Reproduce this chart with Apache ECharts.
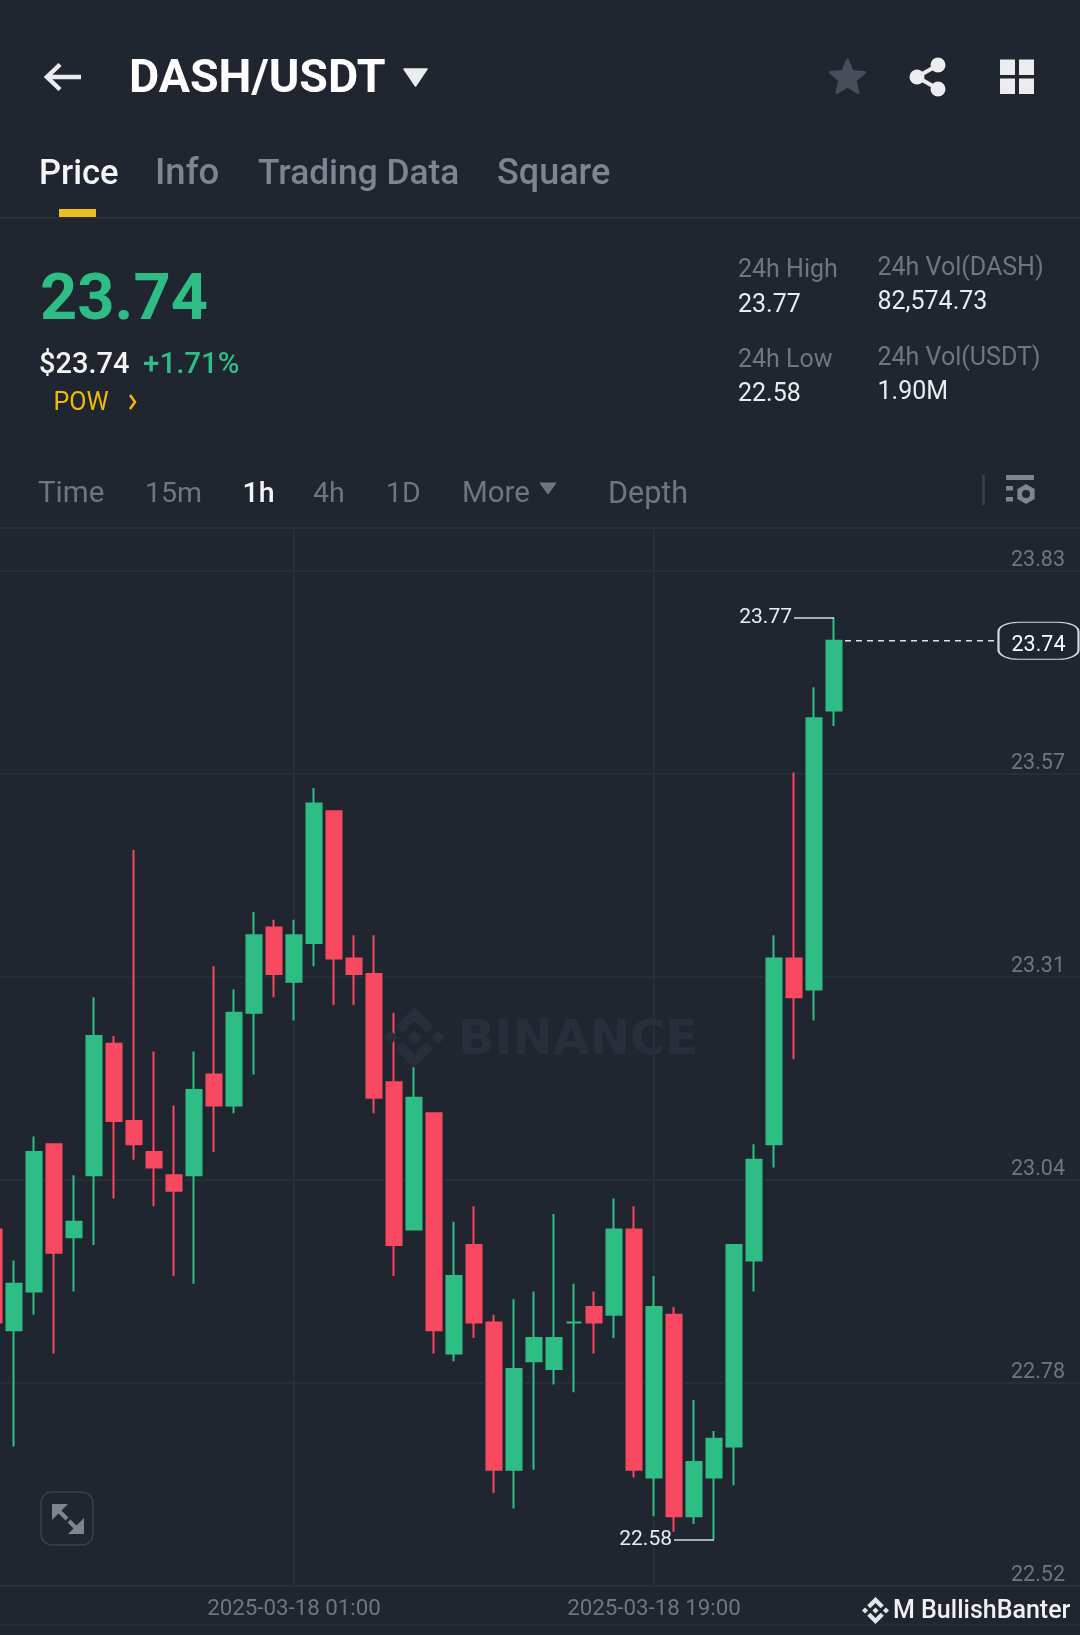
<!DOCTYPE html>
<html>
<head>
<meta charset="utf-8">
<style>html,body{margin:0;padding:0;background:#1f2630}#c{width:1080px;height:1635px}</style>
<script src="https://cdn.jsdelivr.net/npm/echarts@6/dist/echarts.min.js"></script>
</head>
<body>
<div id="c"></div>
<script>
const categories = [
'2025-03-17 10:00','2025-03-17 11:00','2025-03-17 12:00','2025-03-17 13:00','2025-03-17 14:00','2025-03-17 15:00','2025-03-17 16:00','2025-03-17 17:00','2025-03-17 18:00','2025-03-17 19:00','2025-03-17 20:00','2025-03-17 21:00','2025-03-17 22:00','2025-03-17 23:00',
'2025-03-18 00:00','2025-03-18 01:00','2025-03-18 02:00','2025-03-18 03:00','2025-03-18 04:00','2025-03-18 05:00','2025-03-18 06:00','2025-03-18 07:00','2025-03-18 08:00','2025-03-18 09:00','2025-03-18 10:00','2025-03-18 11:00','2025-03-18 12:00','2025-03-18 13:00','2025-03-18 14:00','2025-03-18 15:00','2025-03-18 16:00','2025-03-18 17:00','2025-03-18 18:00','2025-03-18 19:00','2025-03-18 20:00','2025-03-18 21:00','2025-03-18 22:00','2025-03-18 23:00',
'2025-03-19 00:00','2025-03-19 01:00','2025-03-19 02:00','2025-03-19 03:00','2025-03-19 04:00','2025-03-19 05:00','2025-03-19 06:00','2025-03-19 07:00','2025-03-19 08:00','2025-03-19 09:00','2025-03-19 10:00','2025-03-19 11:00','2025-03-19 12:00','2025-03-19 13:00','2025-03-19 14:00','2025-03-19 15:00','2025-03-19 16:00'];
const opens  = [22.98,22.85,22.90,23.09,22.97,23.05,23.22,23.12,23.08,23.05,23.05,23.18,23.14,23.26,23.37,23.30,23.35,23.52,23.33,23.31,23.17,22.98,23.13,22.82,22.96,22.86,22.67,22.81,22.80,22.86,22.88,22.87,22.98,22.66,22.87,22.61,22.66,22.70,22.94,23.09,23.33,23.29,23.65];
const closes = [22.86,22.91,23.08,22.95,22.99,23.23,23.12,23.09,23.06,23.03,23.16,23.14,23.26,23.36,23.31,23.36,23.53,23.33,23.31,23.15,22.96,23.15,22.85,22.92,22.86,22.67,22.80,22.84,22.84,22.86,22.86,22.98,22.67,22.88,22.61,22.68,22.71,22.96,23.07,23.33,23.28,23.64,23.74];
const lows   = [22.86,22.70,22.87,22.82,22.90,22.96,23.02,23.07,23.01,22.92,22.91,23.08,23.13,23.18,23.28,23.25,23.32,23.27,23.27,23.13,22.92,22.98,22.82,22.81,22.84,22.64,22.62,22.67,22.78,22.77,22.82,22.84,22.66,22.61,22.59,22.60,22.58,22.65,22.90,23.06,23.20,23.25,23.63];
const highs  = [22.98,22.94,23.10,23.09,23.05,23.28,23.23,23.47,23.21,23.14,23.21,23.32,23.29,23.39,23.38,23.38,23.55,23.52,23.36,23.36,23.26,23.19,23.13,22.99,23.01,22.87,22.89,22.90,23.00,22.91,22.90,23.02,23.01,22.92,22.88,22.76,22.72,22.96,23.09,23.36,23.57,23.68,23.77];
const priceTicks = [22.52,22.782,23.044,23.306,23.568,23.83];
const timeLabels = ['2025-03-18 01:00','2025-03-18 19:00'];
const lastPrice = 23.74, dayHigh = 23.77, dayLow = 22.58;

const BG='#1f2630', UP='#2ebd85', DOWN='#f84960', GRID='#2b313c', GRAY='#70767f', GRAY2='#7f8590', WHITE='#eaecef', GOLD='#f0b90b', MARK='#292f3a';
const FONT='Roboto';

const candles = opens.map((o,i)=>[o,closes[i],lows[i],highs[i]]);
const lastIdx = candles.length-1;
const priceLine = [[categories[lastIdx],lastPrice],[categories[lastIdx+9],lastPrice]];

function T(text,x,y,size,fill,weight,z){
  return {type:'text',z:z||10,silent:true,style:{text,x,y,fill,font:(weight||400)+' '+size+'px '+FONT,align:'left',verticalAlign:'middle'}};
}
function poly(points,fill,z,extra){
  return {type:'polygon',z:z||10,silent:true,shape:{points},style:Object.assign({fill},extra||{})};
}
function seg(x1,y1,x2,y2,stroke,w,z){
  return {type:'line',z:z||10,silent:true,shape:{x1,y1,x2,y2},style:{stroke,lineWidth:w,lineCap:'butt'}};
}
function rect(x,y,w,h,fill,z){
  return {type:'rect',z:z||10,silent:true,shape:{x,y,width:w,height:h},style:{fill}};
}
function logo(x,y,size,fill,z){
  const k=size/126.6, P=a=>a.map(p=>[x+p[0]*k,y+p[1]*k]);
  return [
    [[38.7,53.2],[63.3,28.6],[87.9,53.2],[102.2,38.9],[63.3,0],[24.4,38.9]],
    [[38.7,73.4],[63.3,98],[87.9,73.4],[102.2,87.7],[63.3,126.6],[24.4,87.7]],
    [[0,63.3],[14.3,49],[28.6,63.3],[14.3,77.6]],
    [[98,63.3],[112.3,49],[126.6,63.3],[112.3,77.6]],
    [[77.8,63.3],[63.3,48.8],[48.8,63.3],[63.3,77.8]]
  ].map(a=>poly(P(a),fill,z));
}
function star(cx,cy,R,r,fill){
  const pts=[];
  for(let i=0;i<10;i++){const a=-Math.PI/2+i*Math.PI/5,q=i%2?r:R;pts.push([cx+q*Math.cos(a),cy+q*Math.sin(a)]);}
  return poly(pts,fill,10,{stroke:fill,lineWidth:3,lineJoin:'round'});
}
function hex(cx,cy,R,fill){
  const pts=[];
  for(let i=0;i<6;i++){const a=-Math.PI/2+i*Math.PI/3;pts.push([cx+R*Math.cos(a),cy+R*Math.sin(a)]);}
  return poly(pts,fill);
}
function circ(cx,cy,r,fill){return {type:'circle',z:10,silent:true,shape:{cx,cy,r},style:{fill}};}

const graphics = [
  // nav bar
  {type:'polyline',z:10,silent:true,shape:{points:[[60,64.5],[47,77],[60,89.5]]},style:{stroke:WHITE,lineWidth:4.5,fill:null}},
  seg(48,77,81,77,WHITE,4.5),
  T('DASH/USDT',129,80.5,46.5,'#ffffff',700),
  poly([[404,69],[427,69],[415.5,86]],WHITE,10,{stroke:WHITE,lineWidth:1.5,lineJoin:'round'}),
  star(847.5,78,18,8,'#474d59'),
  seg(938,65,917,77,WHITE,4),seg(917,77,938,89,WHITE,4),
  circ(938,65,7.5,WHITE),circ(917,77,7.5,WHITE),circ(938,89,7.5,WHITE),
  rect(1000,59.5,15,15.5,WHITE),rect(1019,59.5,15,15.5,WHITE),rect(1000,78.5,15,15.5,WHITE),rect(1019,78.5,15,15.5,WHITE),
  // tabs
  T('Price',39,175,34.5,'#f5f5f5',500),
  T('Info',155,175,36.5,GRAY2,500),
  T('Trading Data',258,175,35.3,GRAY2,500),
  T('Square',497,175,36,GRAY2,500),
  rect(59,209,37,8,'#edbf1c'),
  rect(0,217,1080,1.5,GRID),
  // price block
  T('23.74',40,303,65,UP,700),
  T('$23.74',39,365.5,29,'#f5f5f5',500),
  T('+1.71%',143,365.5,29.5,UP,500),
  T('POW',53.5,404,25,GOLD,400),
  {type:'polyline',z:10,silent:true,shape:{points:[[130,395],[135,402],[130,409]]},style:{stroke:GOLD,lineWidth:2.5,fill:null}},
  // 24h stats
  T('24h High',738,270.5,25,GRAY,400),
  T('23.77',738,305.5,25,WHITE,400),
  T('24h Low',738,360.5,25,GRAY,400),
  T('22.58',738,395,25,WHITE,400),
  T('24h Vol(DASH)',877.5,268.5,25,GRAY,400),
  T('82,574.73',877.5,303,25,WHITE,400),
  T('24h Vol(USDT)',877.5,358.5,25,GRAY,400),
  T('1.90M',877.5,393,25,WHITE,400),
  // intervals
  T('Time',38,495,29.5,GRAY,400),
  T('15m',145,495,28.5,GRAY,400),
  T('1h',242.5,495,28.5,'#f5f5f5',500),
  T('4h',313,495,28.5,GRAY,400),
  T('1D',386,495,28.5,GRAY,400),
  T('More',462,495,29.5,GRAY,400),
  poly([[540,483],[556,483],[548,494]],GRAY,10,{stroke:GRAY,lineWidth:1,lineJoin:'round'}),
  T('Depth',608,495,30.5,GRAY,400),
  seg(983.5,475,983.5,505,'#3a414c',2.5),
  rect(1006,475,28,5,GRAY2),rect(1006,486,7,4.5,GRAY2),rect(1006,497,7,4.5,GRAY2),
  hex(1026,494,10,GRAY2),circ(1026,494,4,BG),
  rect(0,527,1080,2,GRID),
  // expand button
  {type:'rect',z:10,silent:true,shape:{x:41,y:1492,width:52,height:53,r:11},style:{fill:null,stroke:'#3a414c',lineWidth:1.5}},
  poly([[52,1504],[68,1504],[52,1520]],GRAY2),seg(57,1509,67,1519,GRAY2,4),
  poly([[84,1534],[68,1534],[84,1518]],GRAY2),seg(69,1521,79,1531,GRAY2,4),
  // bottom
  rect(0,1624,1080,1.5,GRID),
  ...logo(862,1597,27,'#e4e6ea',10),
  T('M BullishBanter',893,1612,25,'#f0f1f3',500),
  // watermark
  ...logo(384,1007,61,MARK,0),
  {type:'text',z:0,silent:true,style:{text:'BINANCE',x:458,y:1042,fill:MARK,font:'700 48px "DejaVu Sans"',align:'left',verticalAlign:'middle'}}
];

const chart = echarts.init(document.getElementById('c'),null,{width:1080,height:1635});
chart.setOption({
  animation:false,
  backgroundColor:BG,
  textStyle:{fontFamily:FONT},
  grid:{left:-16,top:529,width:1100,height:1057,containLabel:false,outerBoundsMode:'none'},
  xAxis:{
    type:'category',data:categories,boundaryGap:true,
    axisLine:{show:true,lineStyle:{color:GRID,width:1.5}},
    axisTick:{show:false},
    axisLabel:{interval:(i,v)=>timeLabels.includes(v),color:GRAY,fontSize:22.3,fontFamily:FONT,margin:12,hideOverlap:false},
    splitLine:{show:true,alignWithLabel:true,interval:(i,v)=>timeLabels.includes(v),lineStyle:{color:GRID,width:1.5}}
  },
  yAxis:{
    type:'value',position:'right',min:22.52,max:23.8842,scale:true,
    axisLine:{show:false},
    axisTick:{show:false,customValues:priceTicks},
    axisLabel:{inside:true,margin:73,align:'left',verticalAlign:'bottom',lineHeight:20,customValues:priceTicks,color:GRAY,fontSize:21.5,fontFamily:FONT,formatter:v=>v.toFixed(2)},
    splitLine:{show:true,lineStyle:{color:GRID,width:1.5}}
  },
  graphic:graphics,
  series:[
    {type:'line',name:'last',z:1,data:priceLine,symbol:'none',silent:true,
     lineStyle:{color:'#dfe1e5',width:1.5,type:[6,5]}},
    {type:'candlestick',name:'DASH/USDT',z:3,data:candles,barWidth:16,silent:true,
     itemStyle:{color:UP,color0:DOWN,borderColor:UP,borderColor0:DOWN,borderColorDoji:UP,borderWidth:2},
     markLine:{silent:true,symbol:'none',animation:false,
       lineStyle:{color:'#d5d8dc',width:1.5,type:'solid'},
       label:{show:true,position:'start',distance:2,padding:[5,0,0,0],color:WHITE,fontSize:21,fontFamily:FONT,formatter:p=>p.data.labelText||''},
       data:[
         [{coord:[categories[40],dayHigh],labelText:dayHigh.toFixed(2)},{coord:[categories[lastIdx],dayHigh]}],
         [{coord:[categories[34],dayLow],labelText:dayLow.toFixed(2)},{coord:[categories[36],dayLow]}]
       ]},
     markPoint:{silent:true,animation:false,
       data:[{coord:[categories[52],lastPrice],value:lastPrice,symbol:'roundRect',symbolSize:[80,37],symbolOffset:[4.5,0],
         itemStyle:{color:BG,borderColor:'#d5d8dc',borderWidth:1.5},
         label:{show:true,position:'inside',offset:[0,5],color:'#ffffff',fontSize:21.5,fontFamily:FONT,formatter:()=>lastPrice.toFixed(2)}}]}
    }
  ]
});
</script>
</body>
</html>
